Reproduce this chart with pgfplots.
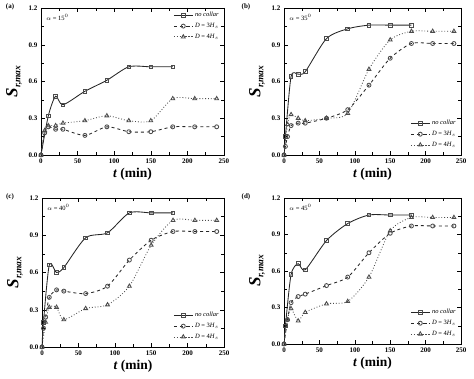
\documentclass[border=0pt]{standalone}
\usepackage{pgfplots}
\pgfplotsset{compat=1.18}
\usepackage{fontspec}
\setmainfont{Liberation Serif}
\pgfplotsset{
 panel/.style={scale only axis, xmin=0, xmax=250, ymin=0, ymax=1.2,
  xtick={0,50,100,150,200,250}, ytick={0,0.3,0.6,0.9,1.2},
  yticklabel style={/pgf/number format/.cd, fixed, fixed zerofill, precision=1},
  minor x tick num=1, minor y tick num=1,
  tick style={black, thin}, axis line style={black, line width=0.8pt},
  /pgf/number format/assume math mode=true,
  tick label style={font=\fontsize{7}{7}\selectfont\bfseries},
  xlabel={\fontsize{13.5}{13.5}\selectfont\bfseries\textit{t} (min)},
  ylabel={{\fontsize{17}{17}\selectfont\bfseries\itshape S}\raisebox{-3pt}{\fontsize{9.5}{9.5}\selectfont\bfseries\itshape r,max}},
  xlabel style={yshift=2pt}, ylabel style={yshift=0pt},
  legend style={draw=none, fill=none, font=\fontsize{6.5}{7}\selectfont, row sep=1pt},
  legend cell align=left,
  legend image code/.code={\draw[mark repeat=2, mark phase=2, #1] plot coordinates {(0cm,0cm)(0.33cm,0cm)(0.66cm,0cm)};},
 },
 nc/.style={black!85, line width=0.85pt, smooth, tension=0.45, mark=square, mark size=1.8pt, mark options={solid, black!70, fill=white}},
 d3/.style={black!85, line width=0.85pt, dashed, smooth, tension=0.45, mark=o, mark size=2pt, mark options={solid, black!70, fill=white}},
 d4/.style={black!70, line width=0.85pt, dotted, smooth, tension=0.45, mark=triangle, mark size=2.2pt, mark options={solid, black!70, fill=white}},
}
\begin{document}
\begin{tikzpicture}
\useasboundingbox (0,0) rectangle (474pt,379pt);
% (a)
\begin{axis}[panel, at={(41pt,224pt)}, anchor=south west, width=183pt, height=147pt,
  legend style={at={(1,1)}, anchor=north east}]
\addplot[nc] coordinates {(0,0)(10,0.32)(20,0.48)(30,0.41)(60,0.52)(90,0.61)(120,0.72)(150,0.72)(180,0.72)};
\addplot[d3] coordinates {(0,0)(5,0.18)(10,0.23)(20,0.21)(30,0.21)(60,0.16)(90,0.23)(120,0.19)(150,0.19)(180,0.23)(210,0.23)(240,0.23)};
\addplot[d4] coordinates {(0,0)(5,0.2)(10,0.24)(20,0.24)(30,0.26)(60,0.28)(90,0.32)(120,0.28)(150,0.28)(180,0.46)(210,0.46)(240,0.46)};
\legend{\textit{no collar}, \textit{D} = 3\textit{H}$_s$, \textit{D} = 4\textit{H}$_s$}
\node[anchor=north west, font=\fontsize{6.5}{7}\selectfont] at (rel axis cs:0.01,0.98) {$\alpha$ = 15$^0$};
\end{axis}
\node[font=\fontsize{7}{7}\selectfont\bfseries] at (10pt,372pt) {(a)};
% (b)
\begin{axis}[panel, at={(284pt,224pt)}, anchor=south west, width=177pt, height=147pt,
  legend style={at={(1,0.02)}, anchor=south east}]
\addplot[nc] coordinates {(0,0)(2,0.15)(10,0.64)(20,0.66)(30,0.68)(60,0.95)(90,1.03)(120,1.06)(150,1.06)(180,1.06)};
\addplot[d3] coordinates {(0,0)(2,0.07)(5,0.15)(10,0.24)(20,0.26)(30,0.26)(60,0.30)(90,0.37)(120,0.57)(150,0.79)(180,0.91)(210,0.91)(240,0.91)};
\addplot[d4] coordinates {(0,0)(5,0.25)(10,0.33)(20,0.30)(30,0.28)(60,0.30)(90,0.34)(120,0.70)(150,0.94)(180,1.01)(210,1.01)(240,1.01)};
\legend{\textit{no collar}, \textit{D} = 3\textit{H}$_s$, \textit{D} = 4\textit{H}$_s$}
\node[anchor=north west, font=\fontsize{6.5}{7}\selectfont] at (rel axis cs:0.01,0.98) {$\alpha$ = 35$^0$};
\end{axis}
\node[font=\fontsize{7}{7}\selectfont\bfseries] at (246pt,372pt) {(b)};
% (c)
\begin{axis}[panel, at={(42pt,32pt)}, anchor=south west, width=182pt, height=149pt,
  legend style={at={(1,0.02)}, anchor=south east}]
\addplot[nc] coordinates {(0,0)(2,0.2)(10,0.66)(20,0.60)(30,0.64)(60,0.88)(90,0.92)(120,1.08)(150,1.08)(180,1.08)};
\addplot[d3] coordinates {(0,0)(2,0.15)(5,0.24)(10,0.40)(20,0.46)(30,0.45)(60,0.43)(90,0.49)(120,0.70)(150,0.86)(180,0.93)(210,0.93)(240,0.93)};
\addplot[d4] coordinates {(0,0)(5,0.2)(10,0.32)(20,0.32)(30,0.22)(60,0.31)(90,0.34)(120,0.49)(150,0.82)(180,1.02)(210,1.02)(240,1.02)};
\legend{\textit{no collar}, \textit{D} = 3\textit{H}$_s$, \textit{D} = 4\textit{H}$_s$}
\node[anchor=north west, font=\fontsize{6.5}{7}\selectfont] at (rel axis cs:0.01,0.98) {$\alpha$ = 40$^0$};
\end{axis}
\node[font=\fontsize{7}{7}\selectfont\bfseries] at (10pt,182pt) {(c)};
% (d)
\begin{axis}[panel, at={(284pt,35pt)}, anchor=south west, width=177pt, height=146pt,
  legend style={at={(1,0.02)}, anchor=south east}]
\addplot[nc] coordinates {(0,0)(2,0.15)(10,0.57)(20,0.66)(30,0.61)(60,0.85)(90,0.99)(120,1.06)(150,1.06)(180,1.06)};
\addplot[d3] coordinates {(0,0)(5,0.2)(10,0.34)(20,0.39)(30,0.41)(60,0.48)(90,0.55)(120,0.75)(150,0.91)(180,0.97)(210,0.97)(240,0.97)};
\addplot[d4] coordinates {(0,0)(5,0.2)(10,0.29)(20,0.19)(30,0.26)(60,0.33)(90,0.35)(120,0.55)(150,0.93)(180,1.04)(210,1.04)(240,1.04)};
\legend{\textit{no collar}, \textit{D} = 3\textit{H}$_s$, \textit{D} = 4\textit{H}$_s$}
\node[anchor=north west, font=\fontsize{6.5}{7}\selectfont] at (rel axis cs:0.01,0.98) {$\alpha$ = 45$^0$};
\end{axis}
\node[font=\fontsize{7}{7}\selectfont\bfseries] at (246pt,182pt) {(d)};
\end{tikzpicture}
\end{document}
